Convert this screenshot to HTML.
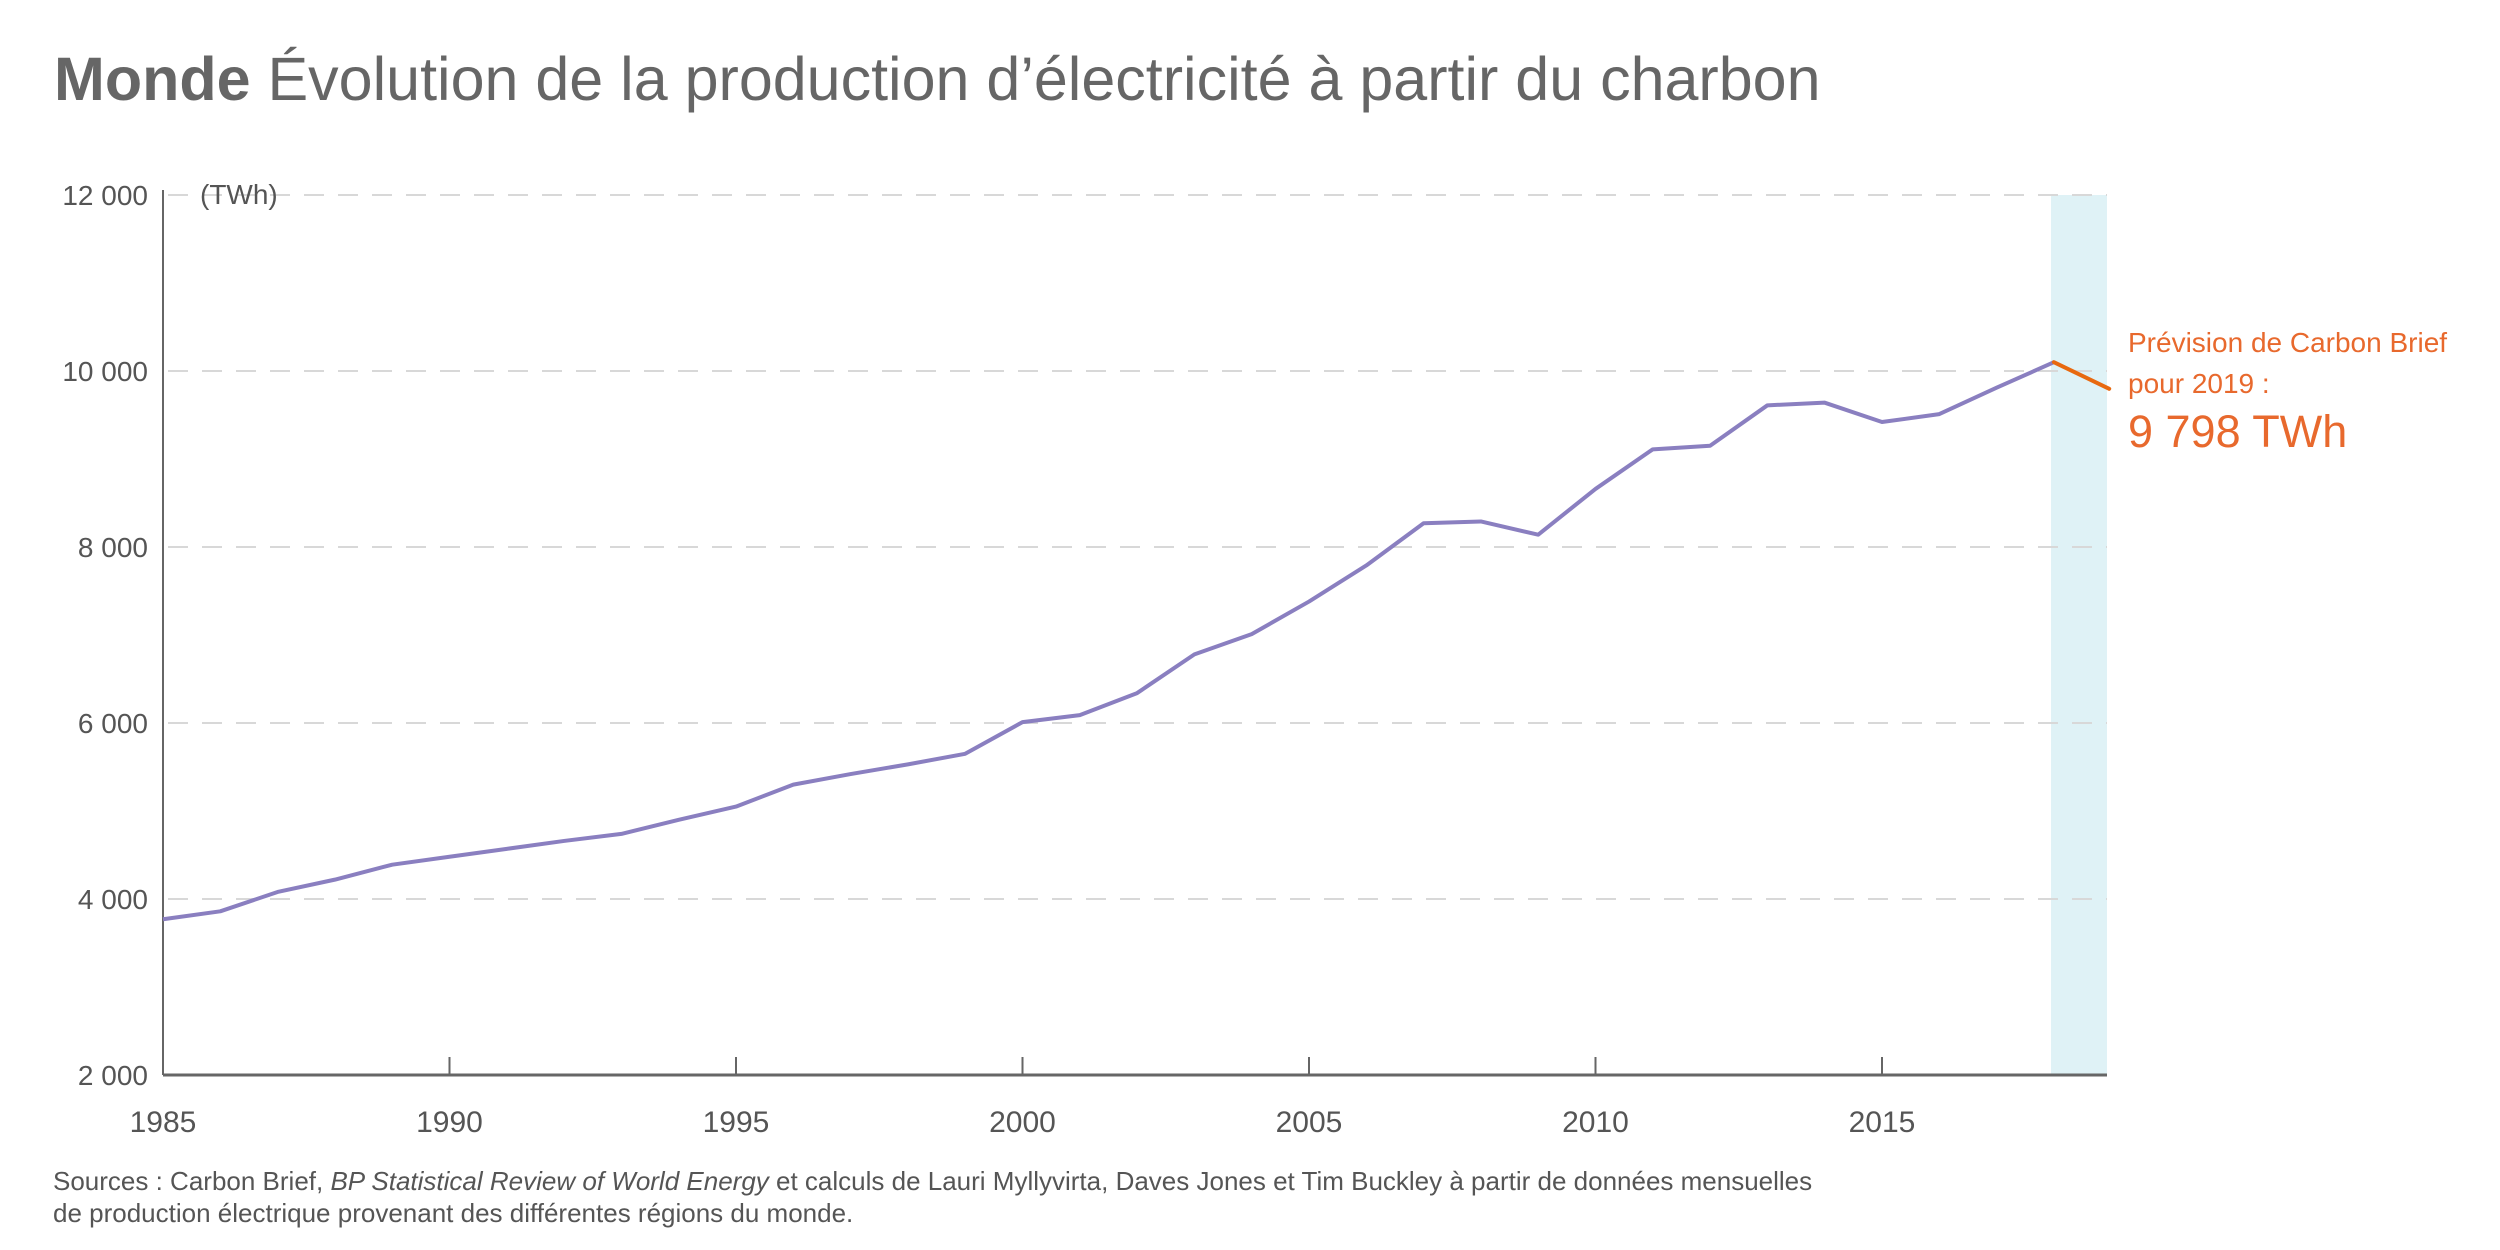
<!DOCTYPE html>
<html><head><meta charset="utf-8"><style>
html,body{margin:0;padding:0;background:#fff;}
svg{display:block;font-family:"Liberation Sans",sans-serif;}
</style></head><body>
<svg id="s" width="2500" height="1250" viewBox="0 0 2500 1250" xmlns="http://www.w3.org/2000/svg">
<text x="54" y="100" font-size="61" fill="#666"><tspan font-weight="bold">Monde</tspan> Évolution de la production d’électricité à partir du charbon</text>
<rect x="2051" y="195" width="56" height="880" fill="#dff2f6"/>
<g id="grid" stroke="#d8d8d8" stroke-width="2" stroke-dasharray="20 14"></g>
<line x1="163" y1="190" x2="163" y2="1075" stroke="#666" stroke-width="2"/>
<line x1="163" y1="1075" x2="2107" y2="1075" stroke="#666" stroke-width="3"/>
<g id="ticks" stroke="#666" stroke-width="2"></g>
<g font-size="28" fill="#555" text-anchor="end">
<text x="148" y="205">12 000</text>
<text x="148" y="381">10 000</text>
<text x="148" y="557">8 000</text>
<text x="148" y="733">6 000</text>
<text x="148" y="909">4 000</text>
<text x="148" y="1085">2 000</text>
</g>
<g id="xlab" font-size="30" fill="#555" text-anchor="middle"></g>
<text x="200" y="204" font-size="28" fill="#555">(TWh)</text>
<polyline id="line" fill="none" stroke="#8a7fc0" stroke-width="4" stroke-linejoin="round"/>
<polyline id="fc" fill="none" stroke="#e8690f" stroke-width="4" stroke-linecap="round"/>
<text x="2128" y="352" font-size="28" fill="#e8692d">Prévision de Carbon Brief</text>
<text x="2128" y="393" font-size="28" fill="#e8692d">pour 2019 :</text>
<text x="2128" y="447" font-size="45" fill="#e8692d">9 798 TWh</text>
<text x="53" y="1190" font-size="26" fill="#555">Sources : Carbon Brief, <tspan font-style="italic">BP Statistical Review of World Energy</tspan> et calculs de Lauri Myllyvirta, Daves Jones et Tim Buckley à partir de données mensuelles</text>
<text x="53" y="1222" font-size="26" fill="#555">de production électrique provenant des différentes régions du monde.</text>
</svg>
<script>
var NS="http://www.w3.org/2000/svg";
function X(yr){return 163+(yr-1985)*57.3;}
function Y(v){return 1075-(v-2000)*0.088;}
function el(p,t,a,txt){var e=document.createElementNS(NS,t);for(var k in a)e.setAttribute(k,a[k]);if(txt)e.textContent=txt;document.getElementById(p).appendChild(e);}
[4000,6000,8000,10000,12000].forEach(function(v){el("grid","line",{x1:168,x2:2107,y1:Y(v),y2:Y(v)});});
for(var y=1985;y<=2015;y+=5){if(y>1985)el("ticks","line",{x1:X(y),x2:X(y),y1:1057,y2:1075});el("xlab","text",{x:X(y),y:1132},String(y));}
var d=[3770,3860,4080,4220,4390,4480,4570,4660,4740,4900,5050,5300,5420,5530,5650,6010,6090,6340,6780,7010,7380,7790,8270,8290,8140,8660,9110,9150,9610,9640,9420,9510,9810,10100];
document.getElementById("line").setAttribute("points",d.map(function(v,i){return X(1985+i)+","+Y(v);}).join(" "));
document.getElementById("fc").setAttribute("points",X(2018)+","+Y(10100)+" "+(X(2019)-2)+","+Y(9798));
</script>
</body></html>
